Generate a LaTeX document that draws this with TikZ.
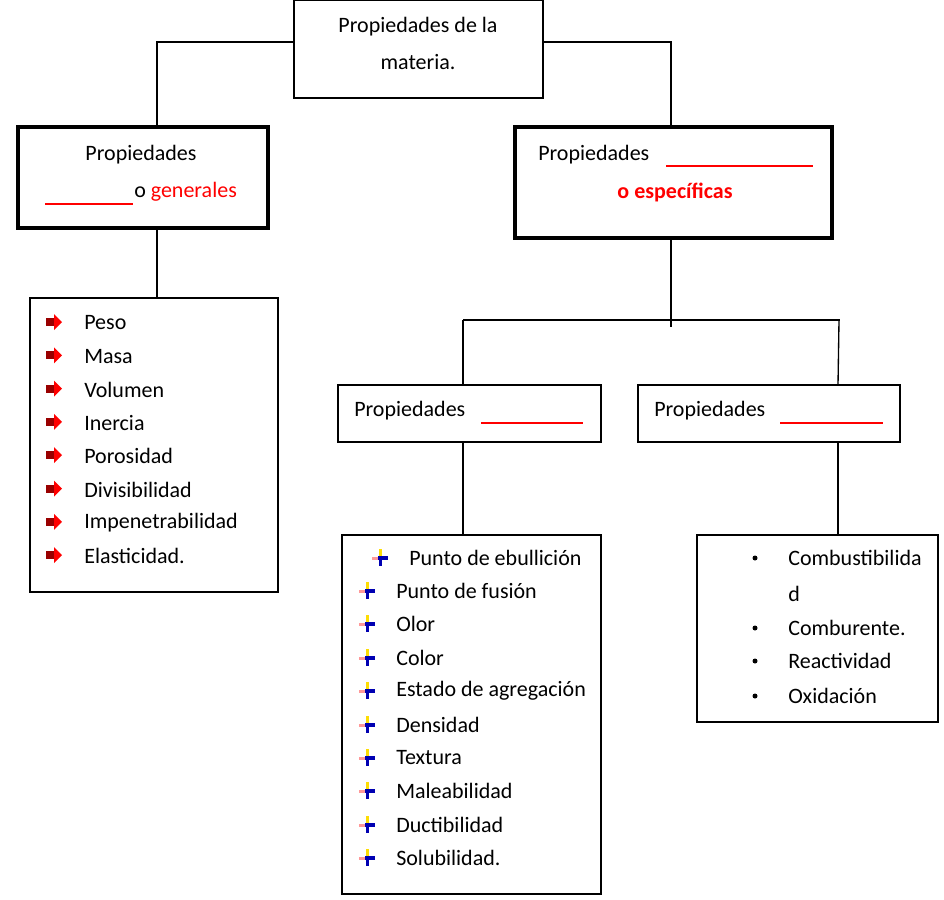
\documentclass[tikz,border=0pt]{standalone}
\usepackage{fontspec}
\setmainfont{Carlito}
\usetikzlibrary{calc}
\begin{document}
\begin{tikzpicture}[x=0.75pt,y=-0.75pt,
  box/.style={draw,line width=1pt},
  tbox/.style={draw,line width=2.6pt},
  conn/.style={line width=1pt},
  rline/.style={red,line width=1.4pt},
  txt/.style={inner sep=0pt,anchor=west,font=\fontsize{16.5}{19}\selectfont},
  ctxt/.style={inner sep=0pt,font=\fontsize{16.5}{19}\selectfont}]
\useasboundingbox (0,0) rectangle (944,899);
\newcommand{\redarrow}[1]{\fill[red!60!black] ($(#1)+(-8,-4)$) rectangle ($(#1)+(0,4)$); \fill[red] ($(#1)+(0,-8)$) -- ($(#1)+(8,0)$) -- ($(#1)+(0,8)$) -- cycle;}
\newcommand{\starbul}[1]{\fill[yellow!80!orange] ($(#1)+(-1,-9)$) rectangle ($(#1)+(2,0)$); \fill[red!40] ($(#1)+(-8,-1)$) rectangle ($(#1)+(0,2)$); \fill[blue!70!black] ($(#1)+(-2,-2)$) rectangle ($(#1)+(8,2)$); \fill[blue!70!black] ($(#1)+(-1,0)$) rectangle ($(#1)+(2,8)$);}
% boxes
\draw[box] (294,0) rectangle (543,98);
\node[ctxt] (t1) at (418,27) {Propiedades de la};
\node[ctxt] (t2) at (418,62) {materia.};
\draw[tbox] (18,127) rectangle (268,228);
\node[ctxt] (l1) at (141,155) {Propiedades};
\coordinate (u1) at (45,204); \coordinate (u2) at (133,204); \draw[rline] (u1) -- (u2);
\node[txt] (l2) at (134,192) {o \textcolor{red}{generales}};
\draw[tbox] (515,127) rectangle (832,238);
\node[txt] (r1) at (538,155) {Propiedades};
\coordinate (u3) at (666,166); \coordinate (u4) at (813,166); \draw[rline] (u3) -- (u4);
\node[ctxt,text=red,font=\fontsize{16.5}{19}\selectfont\bfseries] (r2) at (675,192) {o específicas};
\draw[box] (30,298) rectangle (278,592);
\draw[box] (338,385) rectangle (601,442);
\node[txt] (m1) at (354,411) {Propiedades};
\coordinate (u5) at (481,423); \coordinate (u6) at (583,423); \draw[rline] (u5) -- (u6);
\draw[box] (638,385) rectangle (900,442);
\node[txt] (n1) at (654,411) {Propiedades};
\coordinate (u7) at (780,423); \coordinate (u8) at (883,423); \draw[rline] (u7) -- (u8);
\draw[box] (342,535) rectangle (601,894);
\draw[box] (697,535) rectangle (938,722);
% connectors
\coordinate (a1) at (294,42); \coordinate (a2) at (157,42); \coordinate (a3) at (157,127);
\draw[conn] (a1) -- (a2) -- (a3);
\coordinate (b1) at (543,42); \coordinate (b2) at (671,42); \coordinate (b3) at (671,127);
\draw[conn] (b1) -- (b2) -- (b3);
\coordinate (c1) at (157,228); \coordinate (c2) at (157,298);
\draw[conn] (c1) -- (c2);
\coordinate (d1) at (671,238); \coordinate (d2) at (671,327);
\draw[conn] (d1) -- (d2);
\coordinate (h1) at (463,320); \coordinate (h2) at (840,320);
\draw[conn] (h1) -- (h2);
\coordinate (e1) at (463,385); \draw[conn] (h1) -- (e1);
\coordinate (f0) at (839,320); \coordinate (f1) at (838,385); \draw[conn] (f0) -- (f1);
\coordinate (g1) at (463,442); \coordinate (g2) at (463,535); \draw[conn] (g1) -- (g2);
\coordinate (k1) at (838,442); \coordinate (k2) at (838,535); \draw[conn] (k1) -- (k2);
% left list
\foreach \t [count=\i from 0] in {Peso,Masa,Volumen,Inercia,Porosidad,Divisibilidad,Impenetrabilidad,Elasticidad.}{
  \node[txt] at (84,{323+33.3*\i}) {\t};
  \redarrow{{54},{323+33.3*\i-1}}
}
% middle list
\node[txt] at (409,558) {Punto de ebullición};
\starbul{380,558}
\foreach \t [count=\i from 0] in {Punto de fusión,Olor,Color,Estado de agregación,Densidad,Textura,Maleabilidad,Ductibilidad,Solubilidad.}{
  \node[txt] at (396,{591+33.4*\i}) {\t};
  \starbul{367,{591+33.4*\i}}
}
% right list
\foreach \t/\y in {Combustibilida/558,d/594,Comburente./628,Reactividad/661,Oxidación/696}{
  \node[txt] at (788,\y) {\t};
}
\foreach \y in {558,628,661,696}{ \fill (755,\y) circle (2.5); }
\end{tikzpicture}
\end{document}
